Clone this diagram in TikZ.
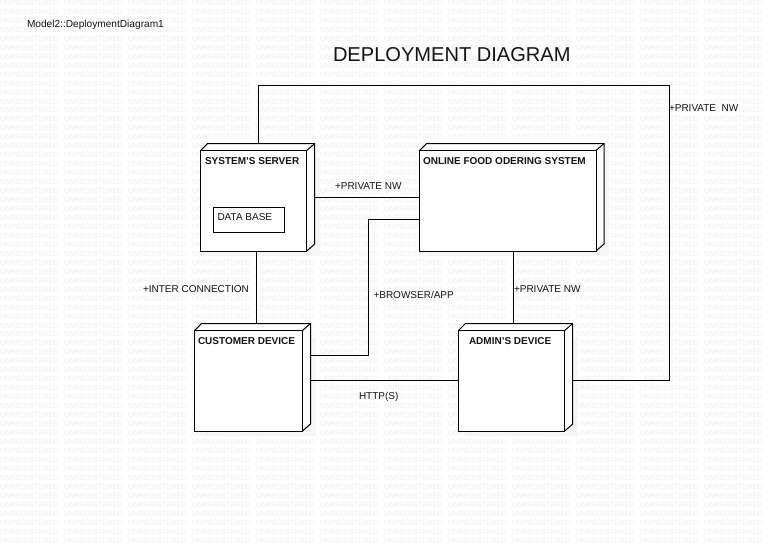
\documentclass[tikz,border=0pt]{standalone}
\usepackage{fontspec}
\setmainfont{Liberation Sans}
\usetikzlibrary{calc}
\definecolor{wm}{gray}{0.935}
\definecolor{ink}{gray}{0.08}
\definecolor{shade}{gray}{0.965}
\newcommand{\pxfont}[1]{\fontsize{#1}{#1}\selectfont}
\tikzset{
  px/.style={x=0.75pt,y=-0.75pt},
  wire/.style={draw=black,line width=0.75pt},
  outerbox/.style={inner sep=0pt,outer sep=0pt,draw=none,fill=none},
  face/.style={draw=black,line width=0.75pt,fill=white,line join=miter},
  shadowface/.style={fill=shade,draw=none},
  lab/.style={inner sep=0pt,outer sep=0pt,anchor=west,text=ink,font=\pxfont{7.5}},
  boldlab/.style={lab,font=\pxfont{7.5}\bfseries},
  wmark/.style={inner sep=0pt,outer sep=0pt,anchor=west,text=wm,font=\pxfont{5.55}}
}
% name, x1,y1 (front top-left), x2,y2 (front bottom-right)
\newcommand{\devnode}[5]{%
  \fill[shadowface] (#2+8,#3+6) rectangle (#4+13,#5+5);
  \node[outerbox,minimum width={(#4+8-#2)*0.75pt},minimum height={(#5-#3+7)*0.75pt}] (#1) at ({(#2+#4+8)/2},{(#3-7+#5)/2}) {};
  \path[face] (#2,#3) -- ++(7,-7) -- (#4+8,#3-7) -- (#4+8,#5-7) -- (#4,#5) -- cycle;
  \path[face] (#2,#3) rectangle (#4,#5);
  \draw[face,fill=none] (#4,#3) -- (#4+8,#3-7);
}
\begin{document}
\begin{tikzpicture}[px]
\useasboundingbox (0,0) rectangle (768,543);
\fill[white] (0,0) rectangle (768,543);
\foreach \c in {0,...,11}{\foreach \r in {0,...,60}{
  \node[wmark] at ({\c*64},{\r*8.96+2.9}) {UNREGISTERED};
}}
\devnode{srv}{200.7}{150.5}{306.7}{251}
\devnode{ofs}{419.7}{150.5}{596}{251}
\devnode{cus}{194.7}{330.5}{302.5}{431}
\devnode{adm}{458.5}{330.5}{564.7}{431}
\node[draw=black,line width=0.75pt,fill=white,minimum width=53.5pt,minimum height=19pt,inner sep=0pt] (db) at (249,220.2) {};
\coordinate (topleft) at (258.3,85);
\coordinate (topright) at (669.5,85);
\coordinate (botright) at (669.5,380.5);
\coordinate (midA) at (368,219.7);
\coordinate (midB) at (368,355);
\draw[wire] (srv.north -| topleft) -- (topleft) -- (topright) -- (botright) -- (adm.east |- botright);
\draw[wire] (srv.east |- 0,197.3) -- (ofs.west |- 0,197.3);
\draw[wire] (ofs.west |- midA) -- (midA) -- (midB) -- (cus.east |- midB);
\coordinate (scx) at (256.3,0);
\draw[wire] (srv.south -| scx) -- (cus.north -| scx);
\coordinate (oax) at (513.7,0);
\draw[wire] (ofs.south -| oax) -- (adm.north -| oax);
\draw[wire] (cus.east |- 0,380.5) -- (adm.west |- 0,380.5);
\node[lab,font=\pxfont{7.6}] (t0) at (27,24.7) {Model2::DeploymentDiagram1};
\node[lab,font=\pxfont{15.05}] (t1) at (333,55) {DEPLOYMENT DIAGRAM};
\node[boldlab] (l1) at (205,161) {SYSTEM'S SERVER};
\node[boldlab] (l2) at (423,161) {ONLINE FOOD ODERING SYSTEM};
\node[boldlab] (l3) at (198,341) {CUSTOMER DEVICE};
\node[boldlab] (l4) at (469,341) {ADMIN'S DEVICE};
\node[lab] (l5) at (217.5,217) {DATA BASE};
\node[lab] (c1) at (335,186.3) {+PRIVATE NW};
\node[lab] (c2) at (669,108.5) {+PRIVATE\ \ NW};
\node[lab] (c3) at (143,289) {+INTER CONNECTION};
\node[lab] (c4) at (373.5,295) {+BROWSER/APP};
\node[lab] (c5) at (514,289) {+PRIVATE NW};
\node[lab] (c6) at (359,397) {HTTP(S)};
\end{tikzpicture}
\end{document}
